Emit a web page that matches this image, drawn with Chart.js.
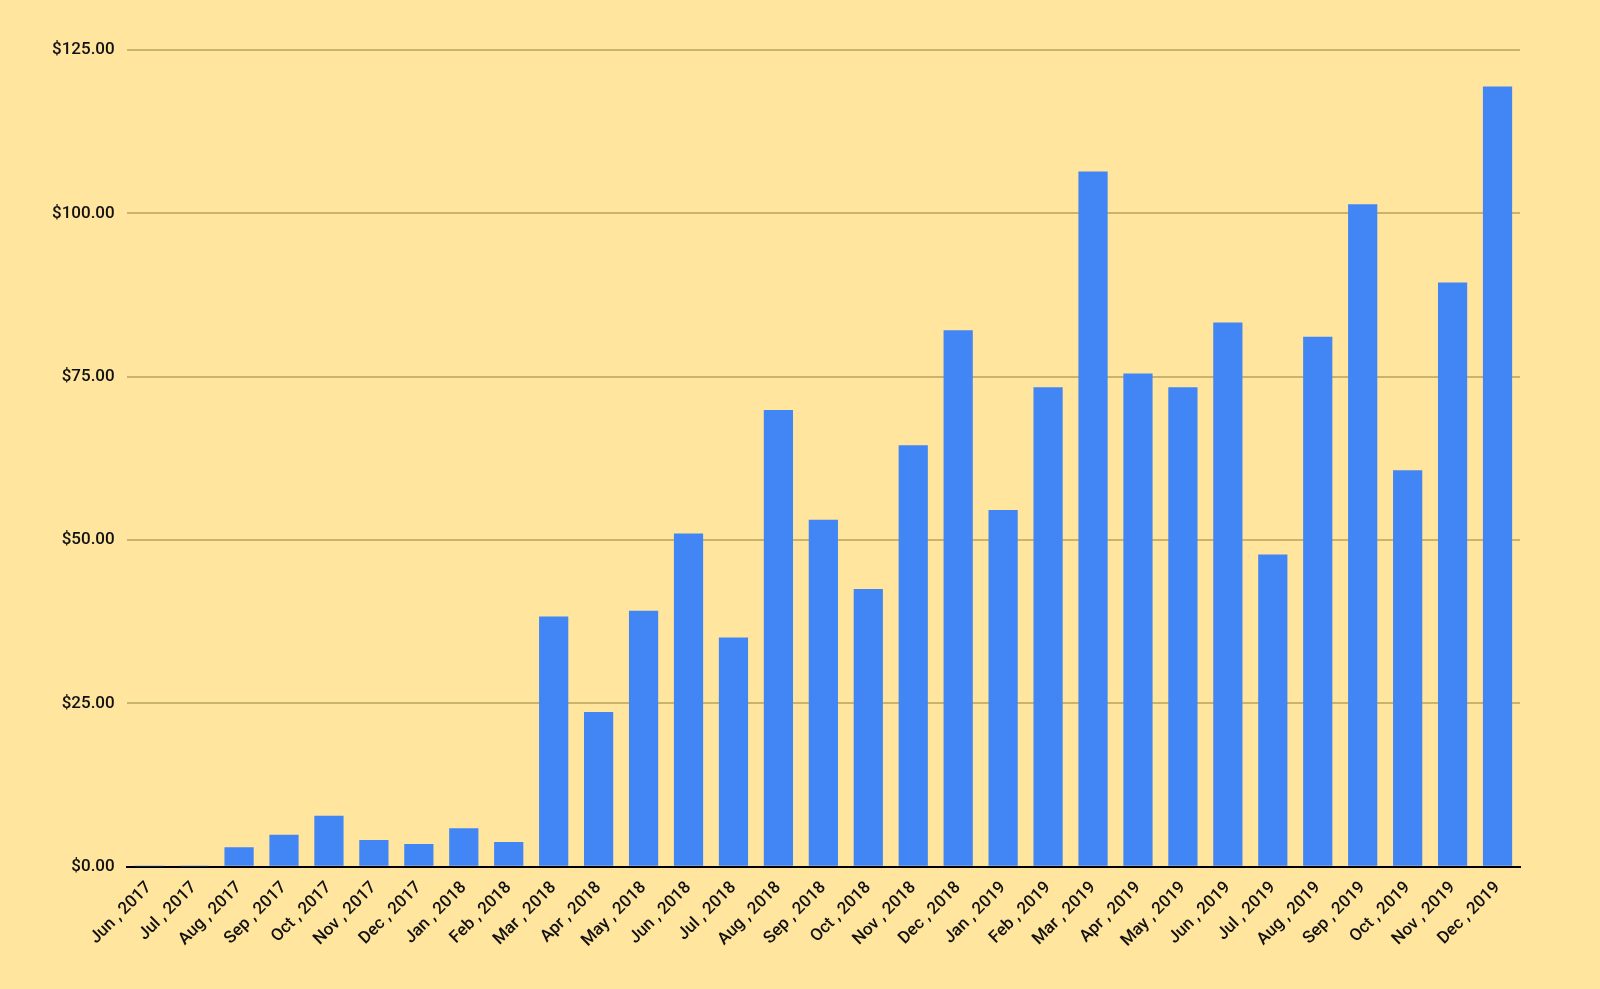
<!DOCTYPE html>
<html><head><meta charset="utf-8">
<script src="https://cdn.jsdelivr.net/npm/chart.js@4"></script>
<style>html,body{margin:0;background:#FFE59E;}#w{width:1600px;height:989px;}</style>
</head><body><div id="w"><canvas id="c"></canvas></div>
<script>
const categories=["Jun , 2017","Jul , 2017","Aug , 2017","Sep , 2017","Oct , 2017","Nov , 2017","Dec , 2017","Jan , 2018","Feb , 2018","Mar , 2018","Apr , 2018","May , 2018","Jun , 2018","Jul , 2018","Aug , 2018","Sep , 2018","Oct , 2018","Nov , 2018","Dec , 2018","Jan , 2019","Feb , 2019","Mar , 2019","Apr , 2019","May , 2019","Jun , 2019","Jul , 2019","Aug , 2019","Sep , 2019","Oct , 2019","Nov , 2019","Dec , 2019"];
const values=[0.1,0.1,3.0,4.9,7.8,4.1,3.5,5.9,3.8,38.3,23.7,39.2,51.0,35.1,69.9,53.1,42.5,64.5,82.1,54.6,73.4,106.4,75.5,73.4,83.3,47.8,81.1,101.4,60.7,89.4,119.4];
const yTicks=[0,25,50,75,100,125];
new Chart(document.getElementById('c'),{type:'bar',
data:{labels:categories,datasets:[{data:values,backgroundColor:'#4285F4',barPercentage:0.65,categoryPercentage:1}]},
options:{responsive:true,maintainAspectRatio:false,animation:false,
layout:{padding:{left:40,right:80,top:50,bottom:35}},
plugins:{legend:{display:false},tooltip:{enabled:false}},
scales:{
x:{grid:{display:false},border:{color:'#000',width:2},
 ticks:{color:'#111',font:{family:'Roboto',size:17,weight:'500'},maxRotation:45,minRotation:45,autoSkip:false}},
y:{min:0,max:125,afterBuildTicks:a=>{a.ticks=yTicks.map(v=>({value:v}));},
 grid:{color:'#C8B46E',lineWidth:2,drawTicks:false},border:{display:false},
 ticks:{padding:12,color:'#111',font:{family:'Roboto',size:17,weight:'500'},callback:v=>'$'+v.toFixed(2)}}
}}});
</script></body></html>
